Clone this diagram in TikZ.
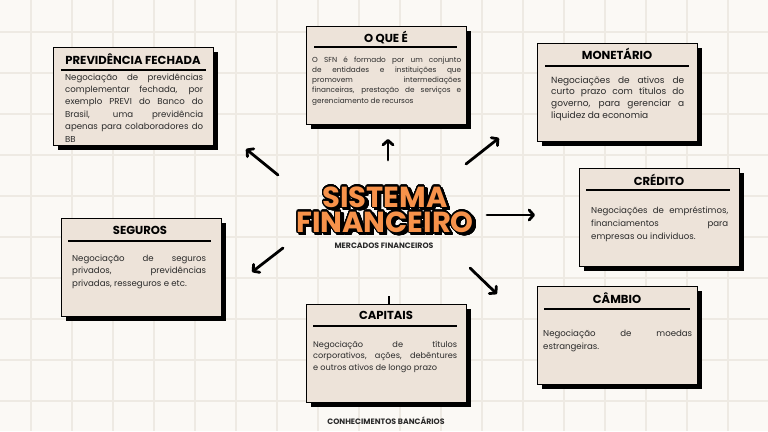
\documentclass[tikz,border=0pt]{standalone}
\usepackage{fontspec}
\usepackage{contour}
\usetikzlibrary{arrows.meta,shadows}
\newfontfamily\popfont{Poppins}
\definecolor{bg}{HTML}{FBF9F5}
\definecolor{gridc}{HTML}{EEEAE3}
\definecolor{cardbg}{HTML}{EDE3D9}
\definecolor{orng}{HTML}{F7924A}
\definecolor{bodyc}{HTML}{2A2A2A}
\contourlength{1.2pt}
\contournumber{32}
\newcommand\jline[1]{\hbox to \hsize{\spaceskip=\fontdimen2\font plus 1fil\relax #1}}
\newcommand\lastln[1]{\hbox{#1}}
\newcommand\bodyblock[2]{\vtop{\hsize=#1\relax #2}}
\tikzset{
  card/.style={draw=black, line width=1.2pt, fill=cardbg, minimum width=160pt, minimum height=98pt, anchor=north west, inner sep=0pt,
    drop shadow={shadow xshift=4pt, shadow yshift=-4pt, fill=black, opacity=1}},
  ctitle/.style={font=\popfont\bfseries\fontsize{11.6}{13}\selectfont, anchor=base, inner sep=0pt},
  crule/.style={line width=1.4pt, black},
  cbody/.style={font=\popfont\fontsize{8.6}{12.4}\selectfont, text=bodyc, anchor=base west, inner sep=0pt},
  arr/.style={line width=2.8pt, line cap=round, -{Straight Barb[length=4.5pt,width=10pt,round]}},
  small/.style={font=\popfont\bfseries\fontsize{7.8}{8}\selectfont, text=bodyc, anchor=base, inner sep=0pt}
}
\begin{document}
\begin{tikzpicture}[x=1pt,y=-1pt]
\useasboundingbox (0,0) rectangle (768,431);
\fill[bg] (0,0) rectangle (768,431);
\foreach \x in {31,72,...,769} \draw[gridc, line width=1.3pt] (\x,0) -- (\x,431);
\foreach \y in {32,73,...,431} \draw[gridc, line width=1.3pt] (0,\y) -- (768,\y);

% center title
\node[font=\popfont\bfseries\fontsize{29}{29}\selectfont, text=black, anchor=base, inner sep=0pt] (s1s) at (387.5,209.5) {\contour{black}{SISTEMA}};
\node[font=\popfont\bfseries\fontsize{29}{29}\selectfont, text=black, anchor=base, inner sep=0pt] (s2s) at (387.5,234.5) {\contour{black}{FINANCEIRO}};
\node[font=\popfont\bfseries\fontsize{29}{29}\selectfont, text=orng, anchor=base, inner sep=0pt] (s1) at (385,207) {\contour{black}{SISTEMA}};
\node[font=\popfont\bfseries\fontsize{29}{29}\selectfont, text=orng, anchor=base, inner sep=0pt] (s2) at (385,232) {\contour{black}{FINANCEIRO}};
\node[small] (merc) at (384,248) {MERCADOS FINANCEIROS};
\node[small] (conh) at (386,424) {CONHECIMENTOS BANCÁRIOS};

% arrow anchors
\coordinate (aPrev0) at (278,175); \coordinate (aPrev1) at (246,149);
\coordinate (aOq0) at (388,160);   \coordinate (aOq1) at (388,139);
\coordinate (aMon0) at (466,164);  \coordinate (aMon1) at (499,138);
\coordinate (aCre0) at (487,215);  \coordinate (aCre1) at (535,215);
\coordinate (aSeg0) at (283,248);  \coordinate (aSeg1) at (252,272);
\coordinate (aCap0) at (389,296);  \coordinate (aCap1) at (389,312);
\coordinate (aCam0) at (470,268);  \coordinate (aCam1) at (497,294);
\draw[arr] (aPrev0) -- (aPrev1);
\draw[arr] (aOq0) -- (aOq1);
\draw[arr] (aMon0) -- (aMon1);
\draw[arr] (aCre0) -- (aCre1);
\draw[arr] (aSeg0) -- (aSeg1);
\draw[arr] (aCam0) -- (aCam1);
\draw[line width=2.4pt] (aCap0) -- (aCap1);

% PREVIDENCIA FECHADA
\node[card] (prev) at (53,47) {};
\node[ctitle] (prevT) at (133,64) {PREVIDÊNCIA FECHADA};
\draw[crule] (61,70) -- (206,70);
\node[cbody] (prevB) at (65,80) {\bodyblock{138pt}{\jline{Negociação de previdências}\jline{complementar fechada, por}\jline{exemplo PREVI do Banco do}\jline{Brasil, uma previdência}\jline{apenas para colaboradores do}\lastln{BB}}};

% O QUE E
\node[card] (oque) at (306,26) {};
\node[ctitle] (oqueT) at (386,42) {O QUE É};
\draw[crule] (314,47) -- (457,47);
\node[cbody, font=\popfont\fontsize{7.3}{10.3}\selectfont] (oqueB) at (312,62) {\bodyblock{149pt}{\jline{O SFN é formado por um conjunto}\jline{de entidades e instituições que}\jline{promovem intermediações}\jline{financeiras, prestação de serviços e}\lastln{gerenciamento de recursos}}};

% MONETARIO
\node[card] (mon) at (537,43) {};
\node[ctitle] (monT) at (617,59) {MONETÁRIO};
\draw[crule] (545,66) -- (689,66);
\node[cbody, font=\popfont\fontsize{9}{11.7}\selectfont] (monB) at (551,83) {\bodyblock{133pt}{\jline{Negociações de ativos de}\jline{curto prazo com títulos do}\jline{governo, para gerenciar a}\lastln{liquidez da economia}}};

% SEGUROS
\node[card] (seg) at (61,218) {};
\node[ctitle] (segT) at (140,234) {SEGUROS};
\draw[crule] (68,241) -- (211,241);
\node[cbody, font=\popfont\fontsize{8.6}{12.7}\selectfont] (segB) at (72,261) {\bodyblock{134pt}{\jline{Negociação de seguros}\jline{privados, previdências}\lastln{privadas, resseguros e etc.}}};

% CREDITO
\node[card] (cred) at (579,168) {};
\node[ctitle] (credT) at (659,185) {CRÉDITO};
\draw[crule] (586,190) -- (730,190);
\node[cbody, font=\popfont\fontsize{8.6}{13}\selectfont] (credB) at (591,213) {\bodyblock{137pt}{\jline{Negociações de empréstimos,}\jline{financiamentos para}\lastln{empresas ou individuos.}}};

% CAPITAIS
\node[card] (cap) at (306,304) {};
\node[ctitle] (capT) at (386,319) {CAPITAIS};
\draw[crule] (313,326) -- (457,326);
\node[cbody, font=\popfont\fontsize{8.2}{11.8}\selectfont] (capB) at (313,347) {\bodyblock{144pt}{\jline{Negociação de títulos}\jline{corporativos, ações, debêntures}\lastln{e outros ativos de longo prazo}}};

% CAMBIO
\node[card] (camb) at (537,286) {};
\node[ctitle] (cambT) at (617,303) {CÂMBIO};
\draw[crule] (544,309) -- (690,309);
\node[cbody, font=\popfont\fontsize{8.6}{13}\selectfont] (cambB) at (543,336) {\bodyblock{149pt}{\jline{Negociação de moedas}\lastln{estrangeiras.}}};
\end{tikzpicture}
\end{document}
